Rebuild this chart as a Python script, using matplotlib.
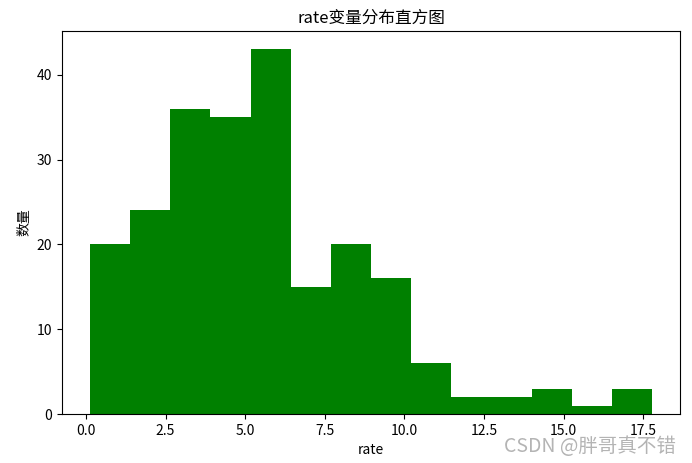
import matplotlib
matplotlib.use("Agg")
from matplotlib import pyplot as plt

plt.rcParams['font.family'] = ['Noto Sans CJK SC', 'DejaVu Sans']
plt.rcParams['axes.unicode_minus'] = False

# histogram of rate: 14 equal bins, counts
bin_edges = [0.13, 1.39, 2.65, 3.91, 5.17, 6.43, 7.69, 8.95,
             10.21, 11.47, 12.73, 13.99, 15.25, 16.51, 17.77]
counts = [20, 24, 36, 35, 43, 15, 20, 16, 6, 2, 2, 3, 1, 3]

fig = plt.figure(figsize=(6.92, 4.63), dpi=100)
ax = fig.add_axes([0.0896, 0.1058, 0.8931, 0.8272])
ax.hist(bin_edges[:-1], bins=bin_edges, weights=counts, color="green")
ax.set_title("rate变量分布直方图", fontsize=12)
ax.set_xlabel("rate")
ax.set_ylabel("数量")

# watermark
fig.text(0.976, 0.012, "CSDN @胖哥真不错", ha="right", va="bottom",
         fontsize=14, color="#b4b4b4")

fig.savefig("out.png", dpi=100)
